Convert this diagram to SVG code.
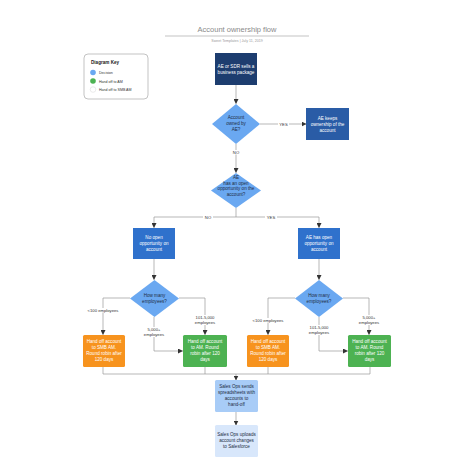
<svg xmlns="http://www.w3.org/2000/svg" width="474" height="474" viewBox="0 0 474 474">
<defs>
<style>
text{font-family:"Liberation Sans",Arial,sans-serif;font-size:4.6px;text-anchor:middle}
.w{fill:#ffffff}
.d{fill:#1f2d44}
.lbl{fill:#333333;font-size:4.2px}
.ln{fill:none;stroke:#9a9a9a;stroke-width:0.7}
.navy{fill:#1d3d6f}
.dblue{fill:#2a5ca6}
.mblue{fill:#2f71cc}
.dia{fill:#6aa8f1}
.org{fill:#f7931e}
.grn{fill:#4db252}
.lb{fill:#a8ccf7}
.vlb{fill:#d8e7fb}
</style>
<marker id="ah" viewBox="0 0 10 10" refX="9" refY="5" markerWidth="5" markerHeight="5" orient="auto" markerUnits="userSpaceOnUse">
<path d="M0,0 L10,5 L0,10 z" fill="#333333"/>
</marker>
</defs>
<rect width="474" height="474" fill="#ffffff"/>
<g id="title">
<text x="237" y="32" style="font-size:7.5px;fill:#8a8a8a">Account ownership flow</text>
<line x1="165" y1="36" x2="309" y2="36" stroke="#9a9a9a" stroke-width="0.6"/>
<text x="237" y="41.5" style="font-size:3.6px;fill:#9a9a9a">Sweet Templates  |  July 11, 2019</text>
</g>
<g id="key">
<rect x="84" y="54" width="64" height="45" rx="4" fill="#ffffff" stroke="#9a9a9a" stroke-width="0.6"/>
<text x="91" y="64" style="text-anchor:start;font-weight:bold;font-size:4.6px;fill:#222">Diagram Key</text>
<circle cx="93" cy="72.5" r="2.8" fill="#6aa8f1"/>
<text x="99" y="74" style="text-anchor:start;font-size:3.6px;fill:#333">Decision</text>
<circle cx="93" cy="81" r="2.8" fill="#4db252"/>
<text x="99" y="82.5" style="text-anchor:start;font-size:3.6px;fill:#333">Hand off to AM</text>
<circle cx="93" cy="89.5" r="2.8" fill="#ffffff" stroke="#cccccc" stroke-width="0.4"/>
<text x="99" y="91" style="text-anchor:start;font-size:3.6px;fill:#333">Hand off to SMB AM</text>
</g>
<g id="connectors">
<line class="ln" x1="236" y1="85" x2="236" y2="103.5" marker-end="url(#ah)"/>
<line class="ln" x1="260" y1="124" x2="306" y2="124" marker-end="url(#ah)"/>
<line class="ln" x1="236" y1="144" x2="236" y2="172.5" marker-end="url(#ah)"/>
<polyline class="ln" points="236,208 236,217 154,217 154,227.5" marker-end="url(#ah)"/>
<polyline class="ln" points="236,217 319,217 319,227.5" marker-end="url(#ah)"/>
<line class="ln" x1="154" y1="259" x2="154" y2="279.5" marker-end="url(#ah)"/>
<line class="ln" x1="319" y1="259" x2="319" y2="279.5" marker-end="url(#ah)"/>
<polyline class="ln" points="130,298 103,298 103,334.5" marker-end="url(#ah)"/>
<polyline class="ln" points="179,298 205,298 205,334.5" marker-end="url(#ah)"/>
<polyline class="ln" points="154,317 154,351 182.5,351" marker-end="url(#ah)"/>
<polyline class="ln" points="295,298 268,298 268,334.5" marker-end="url(#ah)"/>
<polyline class="ln" points="343,298 369,298 369,334.5" marker-end="url(#ah)"/>
<polyline class="ln" points="319,317 319,351 347.5,351" marker-end="url(#ah)"/>
<polyline class="ln" points="103,367 103,374 370,374 370,367"/>
<line class="ln" x1="205" y1="367" x2="205" y2="374"/>
<line class="ln" x1="268" y1="367" x2="268" y2="374"/>
<line class="ln" x1="236" y1="374" x2="236" y2="380" marker-end="url(#ah)"/>
<line class="ln" x1="236" y1="412" x2="236" y2="425" marker-end="url(#ah)"/>
<rect x="278" y="122" width="11" height="4.5" fill="#fff"/>
<text class="lbl" x="283.5" y="125.5">YES</text>
<rect x="231" y="150" width="10" height="4.5" fill="#fff"/>
<text class="lbl" x="236" y="153.5">NO</text>
<rect x="203" y="215" width="10" height="4.5" fill="#fff"/>
<text class="lbl" x="208" y="218.5">NO</text>
<rect x="265" y="215" width="12" height="4.5" fill="#fff"/>
<text class="lbl" x="271" y="218.5">YES</text>
<rect x="89" y="308" width="28" height="4.5" fill="#fff"/>
<text class="lbl" x="103" y="311.5">&lt;100 employees</text>
<rect x="194" y="315" width="22" height="10" fill="#fff"/>
<text class="lbl" x="205" y="318.5">101-5,000</text>
<text class="lbl" x="205" y="323.5">employees</text>
<rect x="144" y="327" width="20" height="10" fill="#fff"/>
<text class="lbl" x="154" y="331">5,000+</text>
<text class="lbl" x="154" y="336">employees</text>
<rect x="254" y="318" width="28" height="4.5" fill="#fff"/>
<text class="lbl" x="268" y="321.5">&lt;100 employees</text>
<rect x="308" y="325" width="22" height="10" fill="#fff"/>
<text class="lbl" x="319" y="328.5">101-5,000</text>
<text class="lbl" x="319" y="333.5">employees</text>
<rect x="359" y="315" width="20" height="10" fill="#fff"/>
<text class="lbl" x="369" y="319">5,000+</text>
<text class="lbl" x="369" y="324">employees</text>
</g>
<g id="n-sells">
<rect class="navy" x="215" y="53" width="42" height="32"/>
<text class="w" x="236" y="68">AE or SDR sells a</text>
<text class="w" x="236" y="74">business package</text>
</g>
<g id="n-owned">
<polygon class="dia" points="236,104 260,124 236,144 212,124"/>
<text class="d" x="236" y="119">Account</text>
<text class="d" x="236" y="125">owned by</text>
<text class="d" x="236" y="131">AE?</text>
</g>
<g id="n-keeps">
<rect class="dblue" x="306" y="108" width="43" height="32"/>
<text class="w" x="327.5" y="119.5">AE keeps</text>
<text class="w" x="327.5" y="125.5">ownership of the</text>
<text class="w" x="327.5" y="131.5">account</text>
</g>
<g id="n-open">
<polygon class="dia" points="236,173 261,190.5 236,208 211,190.5"/>
<text class="d" x="236" y="179">AE</text>
<text class="d" x="236" y="184.5">has an open</text>
<text class="d" x="236" y="190">opportunity on the</text>
<text class="d" x="236" y="195.5">account?</text>
</g>
<g id="n-noopen">
<rect class="mblue" x="133" y="228" width="42" height="31"/>
<text class="w" x="154" y="239">No open</text>
<text class="w" x="154" y="245">opportunity on</text>
<text class="w" x="154" y="251">account</text>
</g>
<g id="n-hasopen">
<rect class="mblue" x="298" y="228" width="42" height="31"/>
<text class="w" x="319" y="239">AE has open</text>
<text class="w" x="319" y="245">opportunity on</text>
<text class="w" x="319" y="251">account</text>
</g>
<g id="n-howmany-l">
<polygon class="dia" points="154.5,280 179,298.5 154.5,317 130,298.5"/>
<text class="d" x="154.5" y="297">How many</text>
<text class="d" x="154.5" y="303">employees?</text>
</g>
<g id="n-howmany-r">
<polygon class="dia" points="319,280 343,298.5 319,317 295,298.5"/>
<text class="d" x="319" y="297">How many</text>
<text class="d" x="319" y="303">employees?</text>
</g>
<g id="n-smb-l">
<rect class="org" x="83" y="335" width="42" height="32" rx="1.5"/>
<text class="w" x="104" y="343">Hand off account</text>
<text class="w" x="104" y="349">to SMB AM.</text>
<text class="w" x="104" y="355">Round robin after</text>
<text class="w" x="104" y="361">120 days</text>
</g>
<g id="n-am-l">
<rect class="grn" x="183" y="335" width="44" height="32" rx="1.5"/>
<text class="w" x="205" y="343">Hand off account</text>
<text class="w" x="205" y="349">to AM. Round</text>
<text class="w" x="205" y="355">robin after 120</text>
<text class="w" x="205" y="361">days</text>
</g>
<g id="n-smb-r">
<rect class="org" x="247" y="335" width="42" height="32" rx="1.5"/>
<text class="w" x="268" y="343">Hand off account</text>
<text class="w" x="268" y="349">to SMB AM.</text>
<text class="w" x="268" y="355">Round robin after</text>
<text class="w" x="268" y="361">120 days</text>
</g>
<g id="n-am-r">
<rect class="grn" x="348" y="335" width="43" height="32" rx="1.5"/>
<text class="w" x="369.5" y="343">Hand off account</text>
<text class="w" x="369.5" y="349">to AM. Round</text>
<text class="w" x="369.5" y="355">robin after 120</text>
<text class="w" x="369.5" y="361">days</text>
</g>
<g id="n-sends">
<rect class="lb" x="215" y="380" width="43" height="32" rx="1.5"/>
<text class="d" x="236.5" y="388">Sales Ops sends</text>
<text class="d" x="236.5" y="394">spreadsheets with</text>
<text class="d" x="236.5" y="400">accounts to</text>
<text class="d" x="236.5" y="406">hand-off</text>
</g>
<g id="n-uploads">
<rect class="vlb" x="215" y="425" width="43" height="32" rx="1.5"/>
<text class="d" x="236.5" y="436">Sales Ops uploads</text>
<text class="d" x="236.5" y="442">account changes</text>
<text class="d" x="236.5" y="448">to Salesforce</text>
</g>
</svg>
